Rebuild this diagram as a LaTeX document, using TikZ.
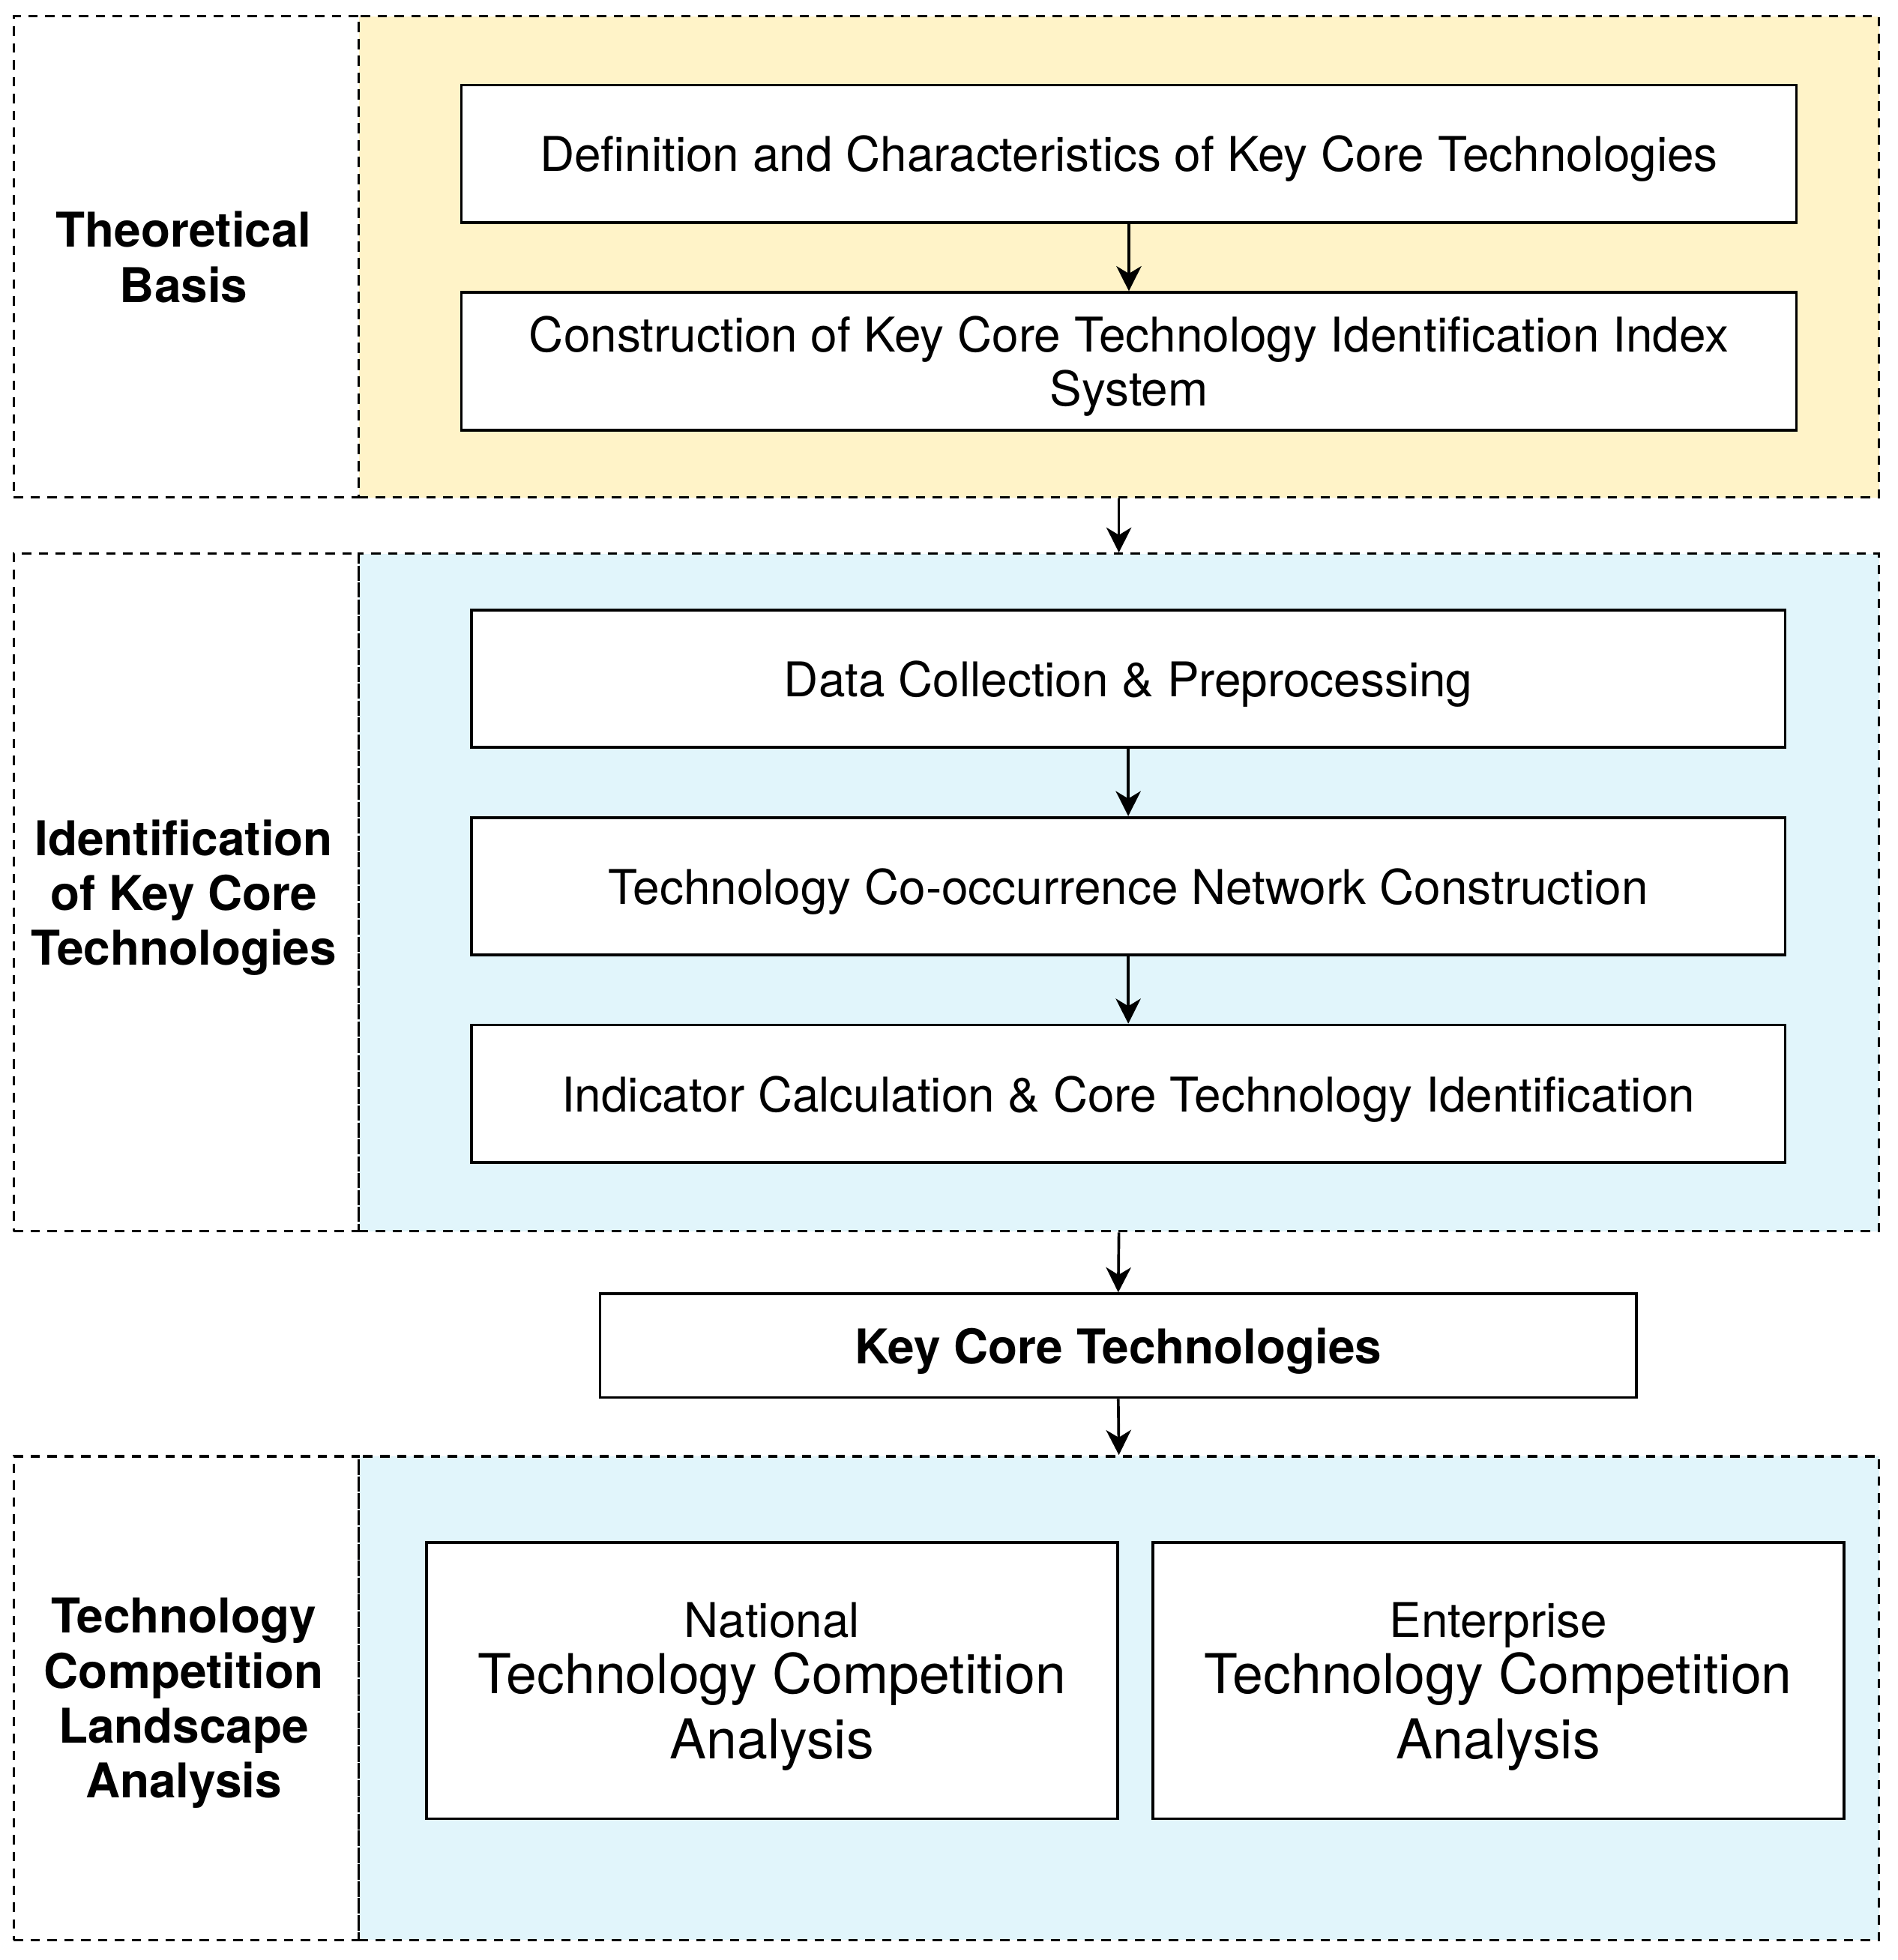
\documentclass[tikz,border=0pt]{standalone}
\usepackage{fontspec}
\setmainfont{TeX Gyre Heros}
\usetikzlibrary{arrows.meta}
\definecolor{nenvang}{HTML}{FFF3C8}
\definecolor{nenxanh}{HTML}{E1F5FB}

\begin{document}
\begin{tikzpicture}[x=1pt, y=-1pt,
    khung/.style={draw, dash pattern=on 7.5pt off 6pt, line width=2pt, inner sep=0pt},
    nhan/.style={khung, align=center, text depth=0pt, minimum width=276pt, font=\fontsize{38.3pt}{44pt}\selectfont\bfseries},
    nen/.style={khung, minimum width=1216pt},
    hop/.style={draw, line width=2.2pt, fill=white, align=center, inner sep=0pt, text depth=0pt, minimum height=110pt, font=\fontsize{38.3pt}{43pt}\selectfont},
    mui/.style={-{Stealth[length=20pt, width=20pt, inset=6pt]}, line width=2.2pt}]
    \useasboundingbox (0,0) rectangle (1518,1568);

    % Khung 1: cơ sở lý thuyết
    \node[nen, fill=nenvang, minimum height=385pt] (nen1) at (895, 205.5) {};
    \node[nhan, minimum height=385pt] (nhan1) at (149, 205.5) {};
    \node[align=center, text depth=0pt, font=\fontsize{38.3pt}{44pt}\selectfont\bfseries] (tieude1) at (147, 205.5) {Theoretical\\Basis};
    \node[hop, minimum width=1068pt] (dinhnghia) at (903, 123) {Definition and Characteristics of Key Core Technologies};
    \node[hop, minimum width=1068pt] (chiso) at (903, 289) {Construction of Key Core Technology Identification Index\\System};
    \draw[mui] (dinhnghia) -- (chiso);

    % Khung 2: nhận diện công nghệ
    \node[nen, fill=nenxanh, minimum height=542pt] (nen2) at (895, 714) {};
    \node[nhan, minimum height=542pt] (nhan2) at (149, 714) {};
    \node[align=center, text depth=0pt, font=\fontsize{38.3pt}{44pt}\selectfont\bfseries] (tieude2) at (147, 714) {Identification\\of Key Core\\Technologies};
    \node[hop, minimum width=1051pt] (dulieu) at (902.5, 543) {Data Collection \& Preprocessing};
    \node[hop, minimum width=1051pt] (mang) at (902.5, 709) {Technology Co-occurrence Network Construction};
    \node[hop, minimum width=1051pt] (tinhtoan) at (902.5, 875) {Indicator Calculation \& Core Technology Identification};
    \draw[mui] (dulieu) -- (mang);
    \draw[mui] (mang) -- (tinhtoan);

    % Kết quả
    \node[hop, minimum width=829pt, minimum height=83pt, font=\fontsize{38.3pt}{43pt}\selectfont\bfseries] (ketqua) at (894.5, 1076.5) {Key Core Technologies};

    % Khung 3: cục diện cạnh tranh
    \node[nen, fill=nenxanh, minimum height=387pt] (nen3) at (895, 1358.5) {};
    \node[nhan, minimum height=387pt] (nhan3) at (149, 1358.5) {};
    \node[align=center, text depth=0pt, font=\fontsize{38.3pt}{44pt}\selectfont\bfseries] (tieude3) at (147, 1358.5) {Technology\\Competition\\Landscape\\Analysis};
    \node[hop, minimum width=553pt, minimum height=221pt, font=\fontsize{44pt}{52pt}\selectfont] (quocgia) at (617.5, 1344.5)
        {{\fontsize{38.3pt}{45pt}\selectfont National}\\[-7pt]Technology Competition\\Analysis};
    \node[hop, minimum width=553pt, minimum height=221pt, font=\fontsize{44pt}{52pt}\selectfont] (doanhnghiep) at (1198.5, 1344.5)
        {{\fontsize{38.3pt}{45pt}\selectfont Enterprise}\\[-7pt]Technology Competition\\Analysis};

    % Mũi tên giữa các khung
    \draw[mui] (nen1.south) -- (nen2.north);
    \draw[mui] (nen2.south) -- (ketqua.north);
    \draw[mui] (ketqua.south) -- (nen3.north);
\end{tikzpicture}
\end{document}
